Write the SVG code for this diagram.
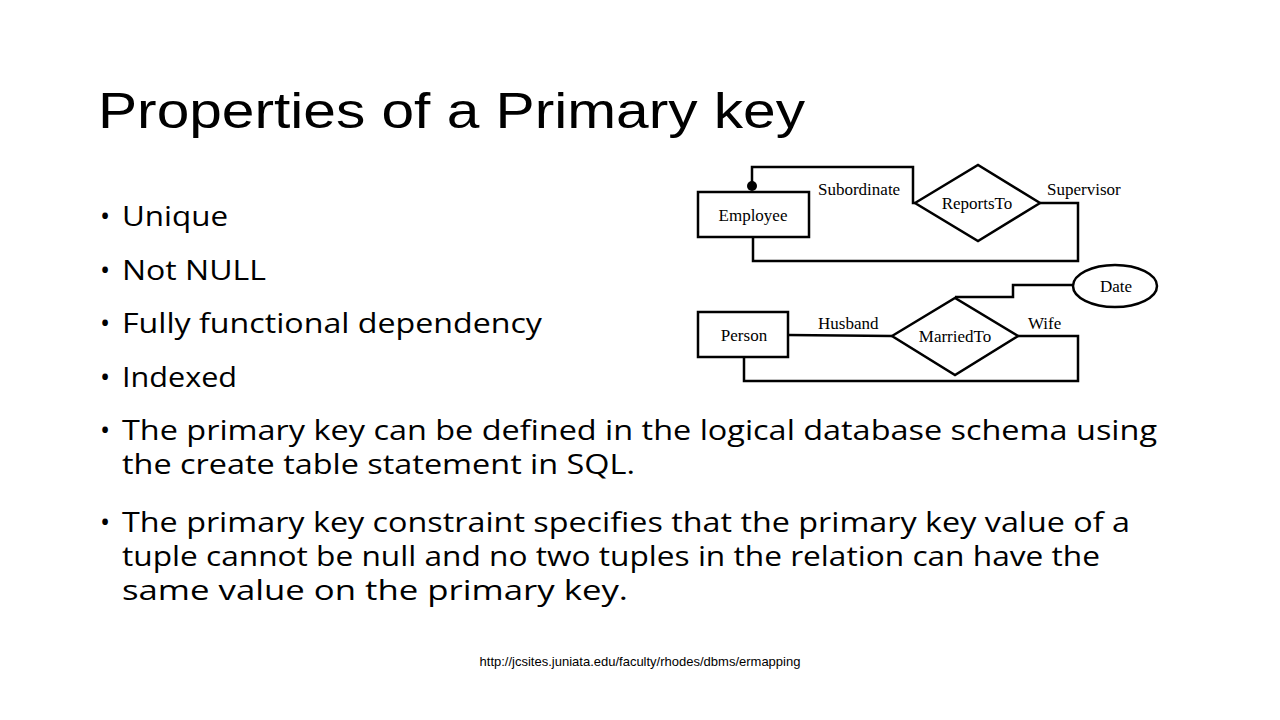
<svg xmlns="http://www.w3.org/2000/svg" width="1280" height="720" viewBox="0 0 1280 720">
<style>
.t{font-family:"Liberation Sans",Arial,sans-serif;fill:#000}
.b{font-family:"Open Sans","Liberation Sans",sans-serif;font-size:27px;fill:#000}
.s{font-family:"Liberation Serif","Times New Roman",serif;font-size:17px;fill:#000}
.l{fill:none;stroke:#000;stroke-width:2.5}
</style>
<rect width="1280" height="720" fill="#fff"/>
<text class="t" x="98" y="128" font-size="50" textLength="707" lengthAdjust="spacingAndGlyphs">Properties of a Primary key</text>
<g class="b">
<text x="100" y="226">•</text><text x="122" y="226" textLength="106" lengthAdjust="spacingAndGlyphs">Unique</text>
<text x="100" y="280">•</text><text x="122" y="280" textLength="144" lengthAdjust="spacingAndGlyphs">Not NULL</text>
<text x="100" y="333">•</text><text x="122" y="333" textLength="420" lengthAdjust="spacingAndGlyphs">Fully functional dependency</text>
<text x="100" y="387">•</text><text x="122" y="387" textLength="115" lengthAdjust="spacingAndGlyphs">Indexed</text>
<text x="100" y="440">•</text><text x="122" y="440" textLength="1035" lengthAdjust="spacingAndGlyphs">The primary key can be defined in the logical database schema using</text>
<text x="122" y="474" textLength="513" lengthAdjust="spacingAndGlyphs">the create table statement in SQL.</text>
<text x="100" y="532">•</text><text x="122" y="532" textLength="1008" lengthAdjust="spacingAndGlyphs">The primary key constraint specifies that the primary key value of a</text>
<text x="122" y="566" textLength="978" lengthAdjust="spacingAndGlyphs">tuple cannot be null and no two tuples in the relation can have the</text>
<text x="122" y="600" textLength="506" lengthAdjust="spacingAndGlyphs">same value on the primary key.</text>
</g>
<text class="t" x="640" y="666" font-size="13" text-anchor="middle">http://jcsites.juniata.edu/faculty/rhodes/dbms/ermapping</text>
<g id="connectors">
<polyline class="l" points="752,185 752,167 913,167 913,203 915,203"/>
<polyline class="l" points="1040,203 1078,203 1078,261 753,261 753,237"/>
<polyline class="l" points="1073,285 1013,285 1013,297 955,297"/>
<line class="l" x1="788" y1="335" x2="892" y2="336"/>
<polyline class="l" points="1018,336 1078,336 1078,381 744,381 744,357"/>
<circle cx="752" cy="186" r="5" fill="#000"/>
</g>
<g id="employee"><rect class="l" x="698" y="192" width="111" height="45"/><text class="s" x="753" y="221" text-anchor="middle">Employee</text></g>
<g id="reportsto"><polygon class="l" points="915,203 978,165 1040,203 978,241"/><text class="s" x="977" y="209" text-anchor="middle">ReportsTo</text></g>
<g id="person"><rect class="l" x="698" y="312" width="90" height="45"/><text class="s" x="744" y="341" text-anchor="middle">Person</text></g>
<g id="marriedto"><polygon class="l" points="892,336 955,298 1018,336 955,375"/><text class="s" x="955" y="342" text-anchor="middle">MarriedTo</text></g>
<g id="date"><ellipse class="l" cx="1115" cy="286" rx="42" ry="21"/><text class="s" x="1116" y="292" text-anchor="middle">Date</text></g>
<g class="s"><text x="818" y="195">Subordinate</text><text x="1047" y="195">Supervisor</text><text x="818" y="329">Husband</text><text x="1028" y="329">Wife</text></g>
</svg>
